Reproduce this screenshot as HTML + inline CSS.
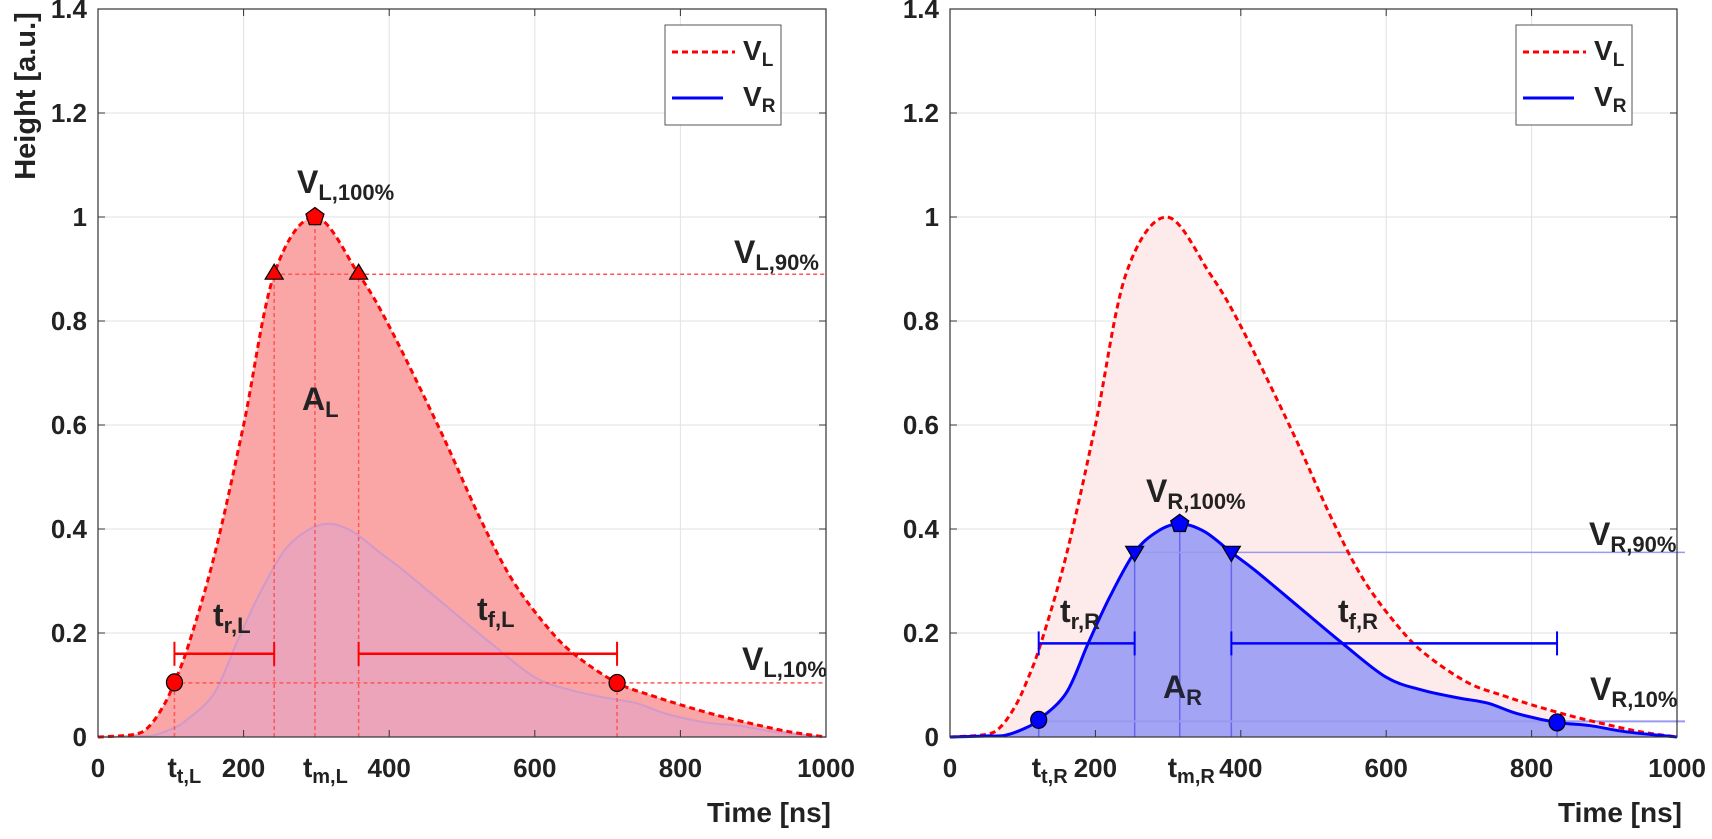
<!DOCTYPE html>
<html><head><meta charset="utf-8"><style>
html,body{margin:0;padding:0;background:#fff;}
svg text{font-family:"Liberation Sans",sans-serif;font-weight:bold;fill:#222;}
</style></head><body>
<svg id="s" width="1712" height="834" xmlns="http://www.w3.org/2000/svg"></svg>
<script>
const S=document.getElementById('s');let h='';
const Y0=737,YS=520;
const VL=[[0,0],[50,0.005],[70,0.02],[90,0.06],[105,0.105],[125,0.18],[160,0.35],[200,0.6],[242,0.89],[298,1.0],[358,0.89],[400,0.79],[470,0.59],[525,0.42],[570,0.3],[621,0.205],[658,0.155],[713,0.104],[760,0.08],[800,0.062],[850,0.042],[900,0.025],[950,0.01],[1000,0]];
const VR=[[0,0],[50,0.002],[75,0.003],[100,0.015],[122,0.033],[160,0.085],[190,0.18],[220,0.27],[254,0.355],[285,0.395],[316,0.41],[350,0.395],[387,0.355],[420,0.32],[480,0.25],[540,0.18],[600,0.115],[650,0.09],[700,0.075],[740,0.065],[780,0.045],[835,0.028],[880,0.022],[930,0.01],[1000,0]];
function path(pts,X){let p=pts.map(q=>[X(q[0]),Y0-YS*q[1]]);let d='M'+p[0][0]+','+p[0][1];
for(let i=0;i<p.length-1;i++){const a=p[Math.max(i-1,0)],b=p[i],c=p[i+1],e=p[Math.min(i+2,p.length-1)];
d+=` C${b[0]+(c[0]-a[0])/6},${b[1]+(c[1]-a[1])/6} ${c[0]-(e[0]-b[0])/6},${c[1]-(e[1]-b[1])/6} ${c[0]},${c[1]}`;}return d;}
function T(x,y,s,sub,size,col){size=size||32;return `<text x="${x}" y="${y}" font-size="${size}"${col?` style="fill:${col}"`:''}>${s}<tspan font-size="${Math.round(size*0.68)}" dy="${Math.round(size*0.22)}">${sub}</tspan></text>`;}
function panel(L,R,left){
const X=t=>L+(R-L)*t/1000, Yv=v=>Y0-YS*v;
for(let i=0;i<=5;i++){let x=X(i*200);h+=`<line x1="${x}" y1="9" x2="${x}" y2="${Y0}" stroke="#e2e2e2" stroke-width="1"/>`;}
for(let i=0;i<=7;i++){let y=Yv(i*0.2);h+=`<line x1="${L}" y1="${y}" x2="${R}" y2="${y}" stroke="#e2e2e2" stroke-width="1"/>`;}
const pl=path(VL,X),pr=path(VR,X);
if(left){
h+=`<path d="${pl} L${X(1000)},${Y0} L${L},${Y0}Z" fill="#fba6a6"/>`;
h+=`<path d="${pr} L${X(1000)},${Y0} L${L},${Y0}Z" fill="#c8a0e8" fill-opacity="0.3"/>`;
h+=`<path d="${pr}" fill="none" stroke="#b090e0" stroke-width="2" stroke-opacity="0.5"/>`;
const ds='stroke="#f55" stroke-width="1.5" stroke-dasharray="4,3"';
[[105,0.105],[242,0.89],[298,1],[358,0.89],[713,0.104]].forEach(q=>{h+=`<line x1="${X(q[0])}" y1="${Y0}" x2="${X(q[0])}" y2="${Yv(q[1])}" ${ds}/>`;});
h+=`<line x1="${X(242)}" y1="${Yv(0.89)}" x2="${R}" y2="${Yv(0.89)}" ${ds} stroke-width="1.2"/>`;
h+=`<line x1="${X(105)}" y1="${Yv(0.104)}" x2="${R}" y2="${Yv(0.104)}" ${ds} stroke-width="1.2"/>`;
h+=`<path d="${pl}" fill="none" stroke="#f00" stroke-width="3" stroke-dasharray="6,4"/>`;
bars(X,Yv,'#f00',[[105,242],[358,713]],0.16);
[[105,0.105],[713,0.104]].forEach(q=>{h+=`<ellipse cx="${X(q[0])}" cy="${Yv(q[1])}" rx="8" ry="8.5" fill="#f00" stroke="#000" stroke-width="1.2"/>`;});
[[242,0.89],[358,0.89]].forEach(q=>{let x=X(q[0]),y=Yv(q[1]);h+=`<polygon points="${x},${y-10} ${x-9},${y+5} ${x+9},${y+5}" fill="#f00" stroke="#000" stroke-width="1.2"/>`;});
pent(X(298),Yv(1),'#f00');
h+=T(297,193,'V','L,100%');
h+=T(734,263,'V','L,90%');
h+=T(742,670,'V','L,10%');
h+=T(213,626,'t','r,L');
h+=T(477,620,'t','f,L');
h+=T(302,410,'A','L');
ticks(X,[[105,'t','t,L'],[298,'t','m,L']]);
}else{
h+=`<path d="${pl} L${X(1000)},${Y0} L${L},${Y0}Z" fill="#fdeaea"/>`;
h+=`<path d="${pr} L${X(1000)},${Y0} L${L},${Y0}Z" fill="#a4a4f4"/>`;
const ls='stroke="#6666ee" stroke-width="1.5"';
[[122,0.033],[254,0.355],[316,0.41],[387,0.355],[835,0.028]].forEach(q=>{h+=`<line x1="${X(q[0])}" y1="${Y0}" x2="${X(q[0])}" y2="${Yv(q[1])}" ${ls}/>`;});
h+=`<line x1="${X(254)}" y1="${Yv(0.355)}" x2="${R+8}" y2="${Yv(0.355)}" stroke="#9999f0" stroke-width="1.5"/>`;
h+=`<line x1="${X(122)}" y1="${Yv(0.03)}" x2="${R+8}" y2="${Yv(0.03)}" stroke="#9999f0" stroke-width="2"/>`;
h+=`<path d="${pl}" fill="none" stroke="#f00" stroke-width="3" stroke-dasharray="6,4"/>`;
h+=`<path d="${pr}" fill="none" stroke="#00f" stroke-width="3"/>`;
bars(X,Yv,'#00f',[[122,254],[387,835]],0.18);
[[122,0.033],[835,0.028]].forEach(q=>{h+=`<ellipse cx="${X(q[0])}" cy="${Yv(q[1])}" rx="8" ry="8.5" fill="#00f" stroke="#000" stroke-width="1.2"/>`;});
[[254,0.355],[387,0.355]].forEach(q=>{let x=X(q[0]),y=Yv(q[1]);h+=`<polygon points="${x},${y+9} ${x-9},${y-6} ${x+9},${y-6}" fill="#00f" stroke="#000" stroke-width="1.2"/>`;});
pent(X(316),Yv(0.41),'#00f');
h+=T(1146,502,'V','R,100%');
h+=T(1589,545,'V','R,90%');
h+=T(1590,700,'V','R,10%');
h+=T(1060,622,'t','r,R');
h+=T(1338,622,'t','f,R');
h+=T(1163,698,'A','R',32,'#223');
ticks(X,[[122,'t','t,R'],[316,'t','m,R']]);
}
h+=`<rect x="${L}" y="9" width="${R-L}" height="${Y0-9}" fill="none" stroke="#333" stroke-width="1.2"/>`;
for(let i=0;i<=5;i++){let x=X(i*200);h+=`<line x1="${x}" y1="${Y0}" x2="${x}" y2="${Y0-7}" stroke="#333"/><line x1="${x}" y1="9" x2="${x}" y2="16" stroke="#333"/>`;
h+=`<text x="${x}" y="777" font-size="26" text-anchor="middle">${i*200}</text>`;}
const yl=['0','0.2','0.4','0.6','0.8','1','1.2','1.4'];
for(let i=0;i<=7;i++){let y=Yv(i*0.2);h+=`<line x1="${L}" y1="${y}" x2="${L+7}" y2="${y}" stroke="#333"/><line x1="${R}" y1="${y}" x2="${R-7}" y2="${y}" stroke="#333"/>`;
h+=`<text x="${L-11}" y="${y+9}" font-size="26" text-anchor="end">${yl[i]}</text>`;}
h+=`<text x="${R+5}" y="822" font-size="28" text-anchor="end">Time [ns]</text>`;
const lx=R-161;h+=`<rect x="${lx}" y="25" width="116" height="100" fill="#fff" stroke="#555" stroke-width="1"/>`;
h+=`<line x1="${lx+7}" y1="52" x2="${lx+70}" y2="52" stroke="#f00" stroke-width="3" stroke-dasharray="6,4"/>`;
h+=`<line x1="${lx+7}" y1="98" x2="${lx+58}" y2="98" stroke="#00f" stroke-width="3"/>`;
h+=T(lx+78,60,'V','L',28);h+=T(lx+78,106,'V','R',28);
}
function bars(X,Yv,c,segs,v){const y=Yv(v);segs.forEach(s=>{h+=`<line x1="${X(s[0])}" y1="${y}" x2="${X(s[1])}" y2="${y}" stroke="${c}" stroke-width="2.5"/>`;
s.forEach(t=>{h+=`<line x1="${X(t)}" y1="${y-12}" x2="${X(t)}" y2="${y+12}" stroke="${c}" stroke-width="2"/>`;});});}
function pent(x,y,c){let p=[];for(let i=0;i<5;i++){let a=-Math.PI/2+i*2*Math.PI/5;p.push((x+9.5*Math.cos(a))+','+(y+9.5*Math.sin(a)));}h+=`<polygon points="${p.join(' ')}" fill="${c}" stroke="#000" stroke-width="1.2"/>`;}
function ticks(X,subs){subs.forEach((s,i)=>{h+=`<text x="${X(s[0])-(i?12:7)}" y="777" font-size="28">${s[1]}<tspan font-size="20" dy="6">${s[2]}</tspan></text>`;});}
panel(98,826,true);
panel(950,1677,false);
h+=`<text transform="translate(35,96) rotate(-90)" font-size="29" text-anchor="middle">Height [a.u.]</text>`;
S.innerHTML=h;
</script>
</body></html>
